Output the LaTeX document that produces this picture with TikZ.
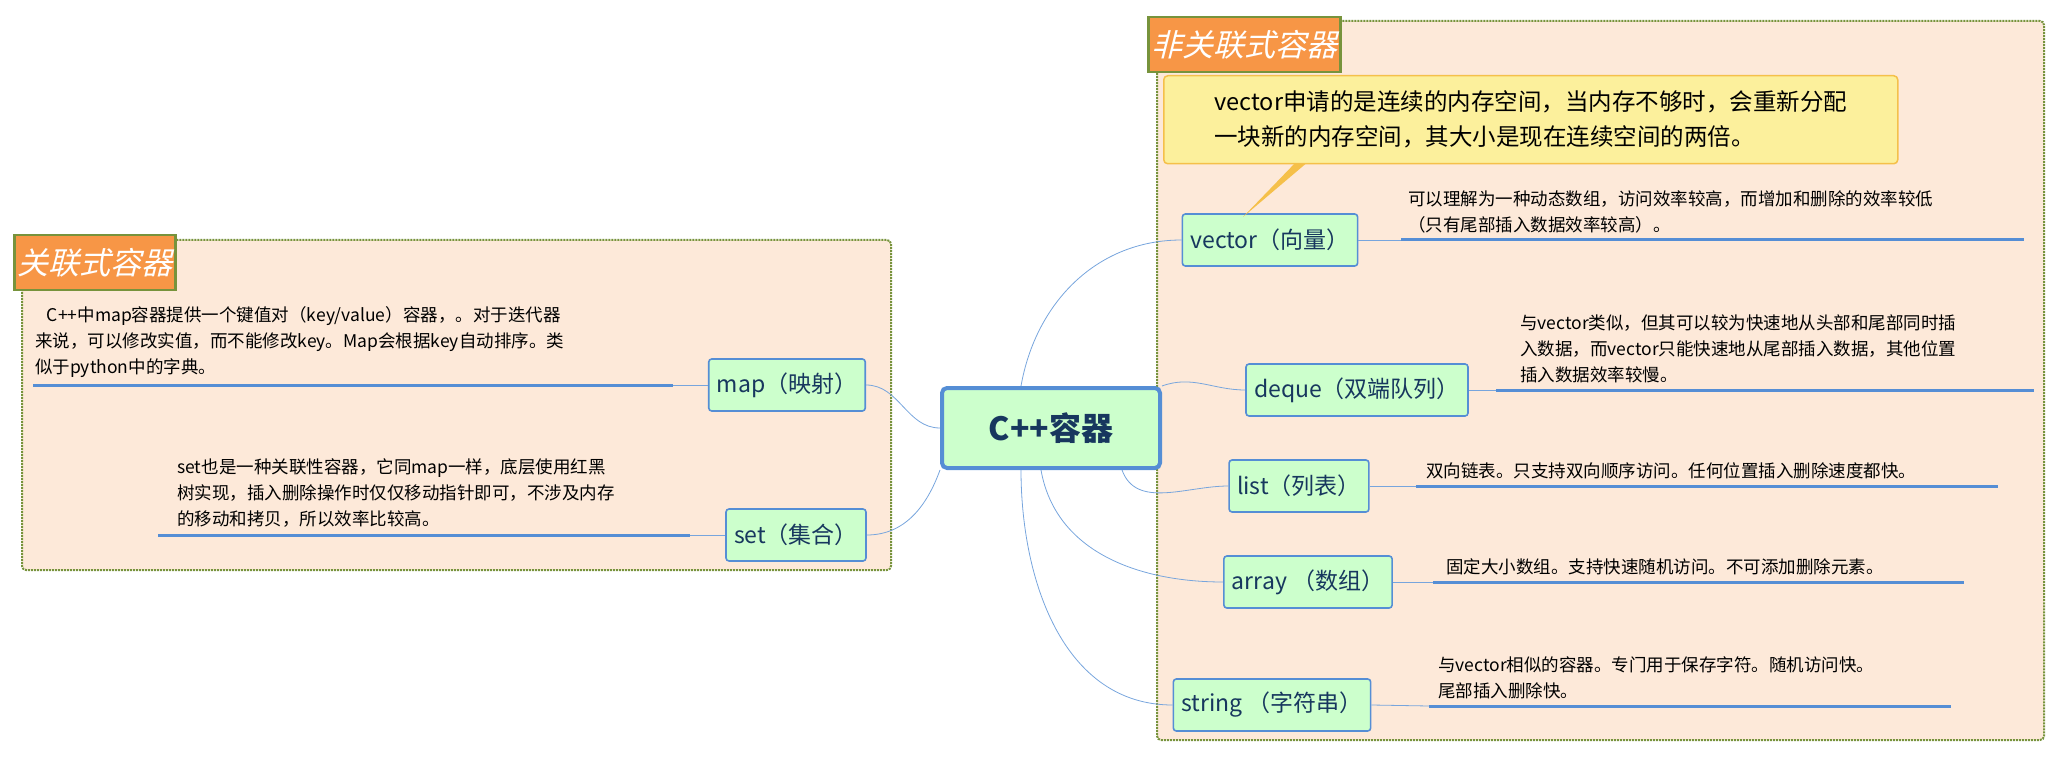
\documentclass[tikz,border=0pt]{standalone}
\usepackage{fontspec}
\setmainfont{Noto Sans CJK SC}
\newfontfamily\slantcjk{Noto Sans CJK SC}[FakeSlant=0.25]
\usetikzlibrary{positioning}
\definecolor{grpbg}{HTML}{FDE9D9}
\definecolor{grpline}{HTML}{77933C}
\definecolor{tagfill}{HTML}{F79646}
\definecolor{leaffill}{HTML}{CCFFCC}
\definecolor{leafline}{HTML}{558ED5}
\definecolor{leaftext}{HTML}{17375E}
\definecolor{notefill}{HTML}{FCF09C}
\definecolor{noteline}{HTML}{F5C04A}
\tikzset{
  group/.style={draw=grpline, fill=grpbg, densely dotted, line width=2pt, rounded corners=4pt},
  tag/.style={fill=tagfill, draw=grpline, line width=2.5pt, text=white, font=\slantcjk\fontsize{31}{34}\selectfont, inner sep=3pt, anchor=north west, minimum height=55pt},
  leaf/.style={draw=leafline, fill=leaffill, line width=1.6pt, rounded corners=3pt, text=leaftext, font=\fontsize{23}{26}\selectfont, minimum height=52pt, inner xsep=8pt},
  hub/.style={draw=leafline, fill=leaffill, line width=4pt, rounded corners=5pt, text=leaftext, font=\bfseries\fontsize{32}{36}\selectfont, minimum width=218pt, minimum height=80pt},
  memo/.style={font=\fontsize{17.5}{26}\selectfont, align=left, anchor=south west, inner sep=2pt},
  rule/.style={draw=leafline, line width=3pt},
  branch/.style={draw=leafline!80, line width=0.8pt},
}
\begin{document}
\begin{tikzpicture}[x=1pt,y=-1pt]
\useasboundingbox (0,0) rectangle (2061,759);

% Gruppen
\draw[group] (22,240) rectangle (891,570);
\draw[group] (1157,21) rectangle (2044,740);
\node[tag] (assoc) at (13,234) {关联式容器};
\node[tag] (seq) at (1147,16) {非关联式容器};

% Zentrum
\node[hub] (ctr) at (1051,428) {C++容器};

% Blaetter
\node[leaf] (map) at (787,385) {map（映射）};
\node[leaf] (set) at (796,535) {set（集合）};
\node[leaf] (vec) at (1270,240) {vector（向量）};
\node[leaf] (deq) at (1357,390) {deque（双端队列）};
\node[leaf] (lst) at (1299,486) {list（列表）};
\node[leaf] (arr) at (1308,582) {array （数组）};
\node[leaf] (str) at (1272,705) {string （字符串）};

% Verbindungen
\draw[branch] (ctr.west) to[out=180,in=0] (map.east);
\draw[branch] (ctr.south west) to[out=-110,in=0] (set.east);
\draw[branch] (ctr.north) ++(-30,0) coordinate (c1) (c1) to[out=80,in=180] (vec.west);
\draw[branch] (ctr.north east) to[out=20,in=180] (deq.west);
\draw[branch] (ctr.south east) ++(-40,0) coordinate (c2) (c2) to[out=-70,in=180] (lst.west);
\draw[branch] (ctr.south) ++(-10,0) coordinate (c3) (c3) to[out=-80,in=180] (arr.west);
\draw[branch] (ctr.south) ++(-30,0) coordinate (c4) (c4) to[out=-90,in=180] (str.west);

% Anmerkungen
\coordinate (m1) at (673,385); \coordinate (m0) at (33,385);
\draw[branch] (map.west) -- (m1); \draw[rule] (m0) -- (m1);
\node[memo] (mapnote) at (33,380) {\ \ \ C++中map容器提供一个键值对（key/value）容器，。对于迭代器\\来说，可以修改实值，而不能修改key。Map会根据key自动排序。类\\似于python中的字典。};

\coordinate (s1) at (690,535); \coordinate (s0) at (158,535);
\draw[branch] (set.west) -- (s1); \draw[rule] (s0) -- (s1);
\node[memo] (setnote) at (175,530) {set也是一种关联性容器，它同map一样，底层使用红黑\\树实现，插入删除操作时仅仅移动指针即可，不涉及内存\\的移动和拷贝，所以效率比较高。};

\coordinate (v0) at (1401,240); \coordinate (v1) at (2024,240);
\draw[branch] (vec.east) -- (v0); \draw[rule] (v0) -- (v1);
\node[memo] (vecnote) at (1406,235) {可以理解为一种动态数组，访问效率较高，而增加和删除的效率较低\\（只有尾部插入数据效率较高）。};

\coordinate (d0) at (1496,390); \coordinate (d1) at (2034,390);
\draw[branch] (deq.east) -- (d0); \draw[rule] (d0) -- (d1);
\node[memo] (deqnote) at (1518,385) {与vector类似，但其可以较为快速地从头部和尾部同时插\\入数据，而vector只能快速地从尾部插入数据，其他位置\\插入数据效率较慢。};

\coordinate (l0) at (1416,486); \coordinate (l1) at (1998,486);
\draw[branch] (lst.east) -- (l0); \draw[rule] (l0) -- (l1);
\node[memo] (lstnote) at (1424,481) {双向链表。只支持双向顺序访问。任何位置插入删除速度都快。};

\coordinate (a0) at (1433,582); \coordinate (a1) at (1964,582);
\draw[branch] (arr.east) -- (a0); \draw[rule] (a0) -- (a1);
\node[memo] (arrnote) at (1444,577) {固定大小数组。支持快速随机访问。不可添加删除元素。};

\coordinate (t0) at (1429,706); \coordinate (t1) at (1951,706);
\draw[branch] (str.east) -- (t0); \draw[rule] (t0) -- (t1);
\node[memo] (strnote) at (1436,701) {与vector相似的容器。专门用于保存字符。随机访问快。\\尾部插入删除快。};

% Hinweis
\coordinate (tip) at (1243,217);
\fill[noteline] (tip) -- (1297,161) -- (1309,161) -- cycle;
\node[draw=noteline, fill=notefill, line width=1.5pt, rounded corners=4pt, anchor=north west,
  minimum width=734pt, minimum height=88pt, align=left, inner xsep=10pt,
  font=\fontsize{23.5}{35}\selectfont] (hint) at (1163,75)
  {vector申请的是连续的内存空间，当内存不够时，会重新分配\\一块新的内存空间，其大小是现在连续空间的两倍。};
\end{tikzpicture}
\end{document}
